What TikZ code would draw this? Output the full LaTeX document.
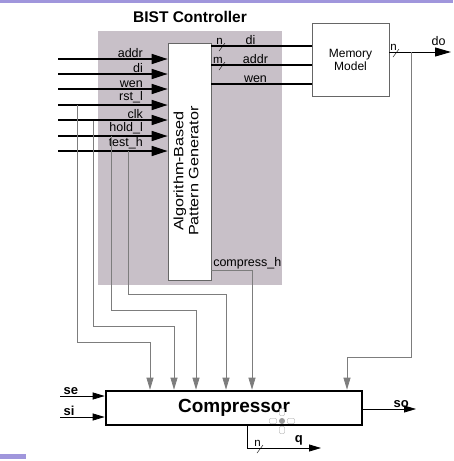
\documentclass[tikz,border=0pt]{standalone}
\usepackage{fontspec}
\setmainfont{Liberation Sans}
\usetikzlibrary{arrows.meta,positioning}

\definecolor{ctrlgray}{RGB}{200,192,200}
\definecolor{wiregray}{RGB}{125,125,125}
\definecolor{slidebar}{RGB}{160,150,220}

\tikzset{
  pics/busmark/.style={code={
    \draw[thin] (-3pt,-5pt) -- (3pt,3pt);
    \node[font=\fontsize{11.5}{12}\selectfont, anchor=south east, inner sep=0pt] at (1pt,1pt) {#1};
  }}
}

\begin{document}
\begin{tikzpicture}%
  [x=1pt, y=-1pt,
   >={Triangle[length=12pt,width=7pt]},
   bigtip/.style={-{Triangle[length=16pt,width=10pt]}},
   sig/.style={font=\fontsize{12.5}{13}\selectfont, inner sep=1pt},
   pin/.style={font=\bfseries\fontsize{13}{14}\selectfont, inner sep=1pt},
   bus/.style={line width=1.6pt},
   membus/.style={line width=1.3pt},
   tap/.style={draw=wiregray, line width=0.8pt},
   box/.style={draw=black!60, fill=white, line width=0.7pt},
   grip/.style={draw=gray!80, fill=white, rounded corners=0.8pt, inner sep=0pt}
  ]
\useasboundingbox (0,0) rectangle (453,461);
\fill[slidebar] (0,0) rectangle (453,3);
\fill[slidebar] (0,454) rectangle (26,459);

% controller area
\fill[ctrlgray] (98,31) rectangle (282,285);
\node[font=\bfseries\fontsize{15.5}{17}\selectfont] (title) at (190,17) {BIST Controller};

\node[box, minimum width=43pt, minimum height=237pt] (pg) at (189.5,161.5) {};
\node[rotate=90, align=center, font=\fontsize{13.5}{15}\selectfont] (pglabel) at (186,171)
  {\scalebox{1.2}[1]{Algorithm-Based}\\\scalebox{1.2}[1]{Pattern Generator}};
\node[box, minimum width=77pt, minimum height=73pt, align=center,
      font=\fontsize{12}{13}\selectfont] (mem) at (350.5,59.5) {Memory\\Model};
\node[draw, line width=2.6pt, fill=white, minimum width=256pt, minimum height=34pt,
      font=\bfseries\fontsize{19}{20}\selectfont] (comp) at (234,408) {Compressor};

% inputs
\coordinate (addr-in)  at (58,59);
\coordinate (di-in)    at (58,74);
\coordinate (wen-in)   at (58,89);
\coordinate (rst-in)   at (58,105);
\coordinate (clk-in)   at (58,120);
\coordinate (hold-in)  at (58,136);
\coordinate (test-in)  at (58,151);

\path[bus, bigtip]
%   FROM        LABEL                                           TO
   (addr-in) edge node[sig, pos=0.79, anchor=south east] {addr}   (addr-in -| pg.west)
   (di-in)   edge node[sig, pos=0.79, anchor=south east] {di}     (di-in -| pg.west)
   (wen-in)  edge node[sig, pos=0.79, anchor=south east] {wen}    (wen-in -| pg.west)
   (rst-in)  edge node[sig, pos=0.79, anchor=south east] {rst\_l} (rst-in -| pg.west)
   (clk-in)  edge node[sig, pos=0.79, anchor=south east] {clk}    (clk-in -| pg.west)
   (hold-in) edge node[sig, pos=0.79, anchor=south east] {hold\_l}(hold-in -| pg.west)
   (test-in) edge node[sig, pos=0.79, anchor=south east] {test\_h}(test-in -| pg.west)
   ;

% pattern generator to memory
\coordinate (di-out)   at (pg.east |- 0,46);
\coordinate (addr-out) at (pg.east |- 0,65);
\coordinate (wen-out)  at (pg.east |- 0,84);
\draw[membus] (di-out) -- node[sig, pos=0.39, above] {di} (di-out -| mem.west);
\draw[membus] (addr-out) -- node[sig, pos=0.44, above] {addr} (addr-out -| mem.west);
\draw[membus] (wen-out) -- node[sig, pos=0.44, above] {wen} (wen-out -| mem.west);
\pic at (222,46) {busmark=n};
\pic at (222,65) {busmark=m};

% memory output
\coordinate (do-out) at ([yshift=7.5pt]mem.east);
\coordinate (do-end) at (451,52);
\draw[line width=1pt, -{Triangle[length=16pt,width=9pt]}] (do-out) -- (do-end)
  node[sig, above left=5pt and 4pt] (dolabel) {do};
\pic at (396,52) {busmark=n};

% taps down to the compressor
\coordinate (rst-tap)  at (77,105);
\coordinate (clk-tap)  at (93,121);
\coordinate (hold-tap) at (111,136);
\coordinate (test-tap) at (128,151);
\coordinate (do-tap)   at (411,52);
\coordinate (cmp-out)  at (pg.east |- 0,270);

\draw[tap, ->] (rst-tap)  |- (150,342) -- (comp.north -| 150,0);
\draw[tap, ->] (clk-tap)  |- (174,326) -- (comp.north -| 174,0);
\draw[tap, ->] (hold-tap) |- (196,310) -- (comp.north -| 196,0);
\draw[tap, ->] (test-tap) |- (226,294) -- (comp.north -| 226,0);
\draw[tap, ->] (cmp-out) -| (comp.north -| 252,0)
  node[sig, pos=0.08, anchor=south west, xshift=-6pt] (cmplabel) {compress\_h};
\draw[tap, ->] (do-tap) |- (347,357) -- (comp.north -| 347,0);

% compressor pins
\coordinate (se-in) at (60,396);
\coordinate (si-in) at (60,417);
\coordinate (so-out) at (416,409);
\coordinate (q-src) at (comp.south -| 247,0);
\coordinate (q-out) at (321,448);

\path[line width=0.8pt, ->]
   (se-in) edge node[pin, pos=0.05, anchor=south west] {se} (se-in -| comp.west)
   (si-in) edge node[pin, pos=0.05, anchor=south west] {si} (si-in -| comp.west)
   (so-out -| comp.east) edge node[pin, pos=0.72, anchor=south] {so} (so-out)
   ;
\draw[line width=0.8pt, ->] (q-src) |- (q-out)
  node[pin, pos=0.85, anchor=south, yshift=1pt] (qlabel) {q};
\pic at (260,448) {busmark=n};

% cursor mark
\node[circle, fill=gray!80, inner sep=0pt, minimum size=6pt] (cursor) at (282,421) {};
\node[grip, minimum width=7pt, minimum height=5pt] at ([xshift=-9pt]cursor) {};
\node[grip, minimum width=7pt, minimum height=5pt] at ([xshift=9pt]cursor) {};
\node[grip, minimum width=5pt, minimum height=7pt] at ([yshift=9pt]cursor) {};
\node[grip, minimum width=5pt, minimum height=7pt] at ([yshift=-9pt]cursor) {};
\end{tikzpicture}
\end{document}
